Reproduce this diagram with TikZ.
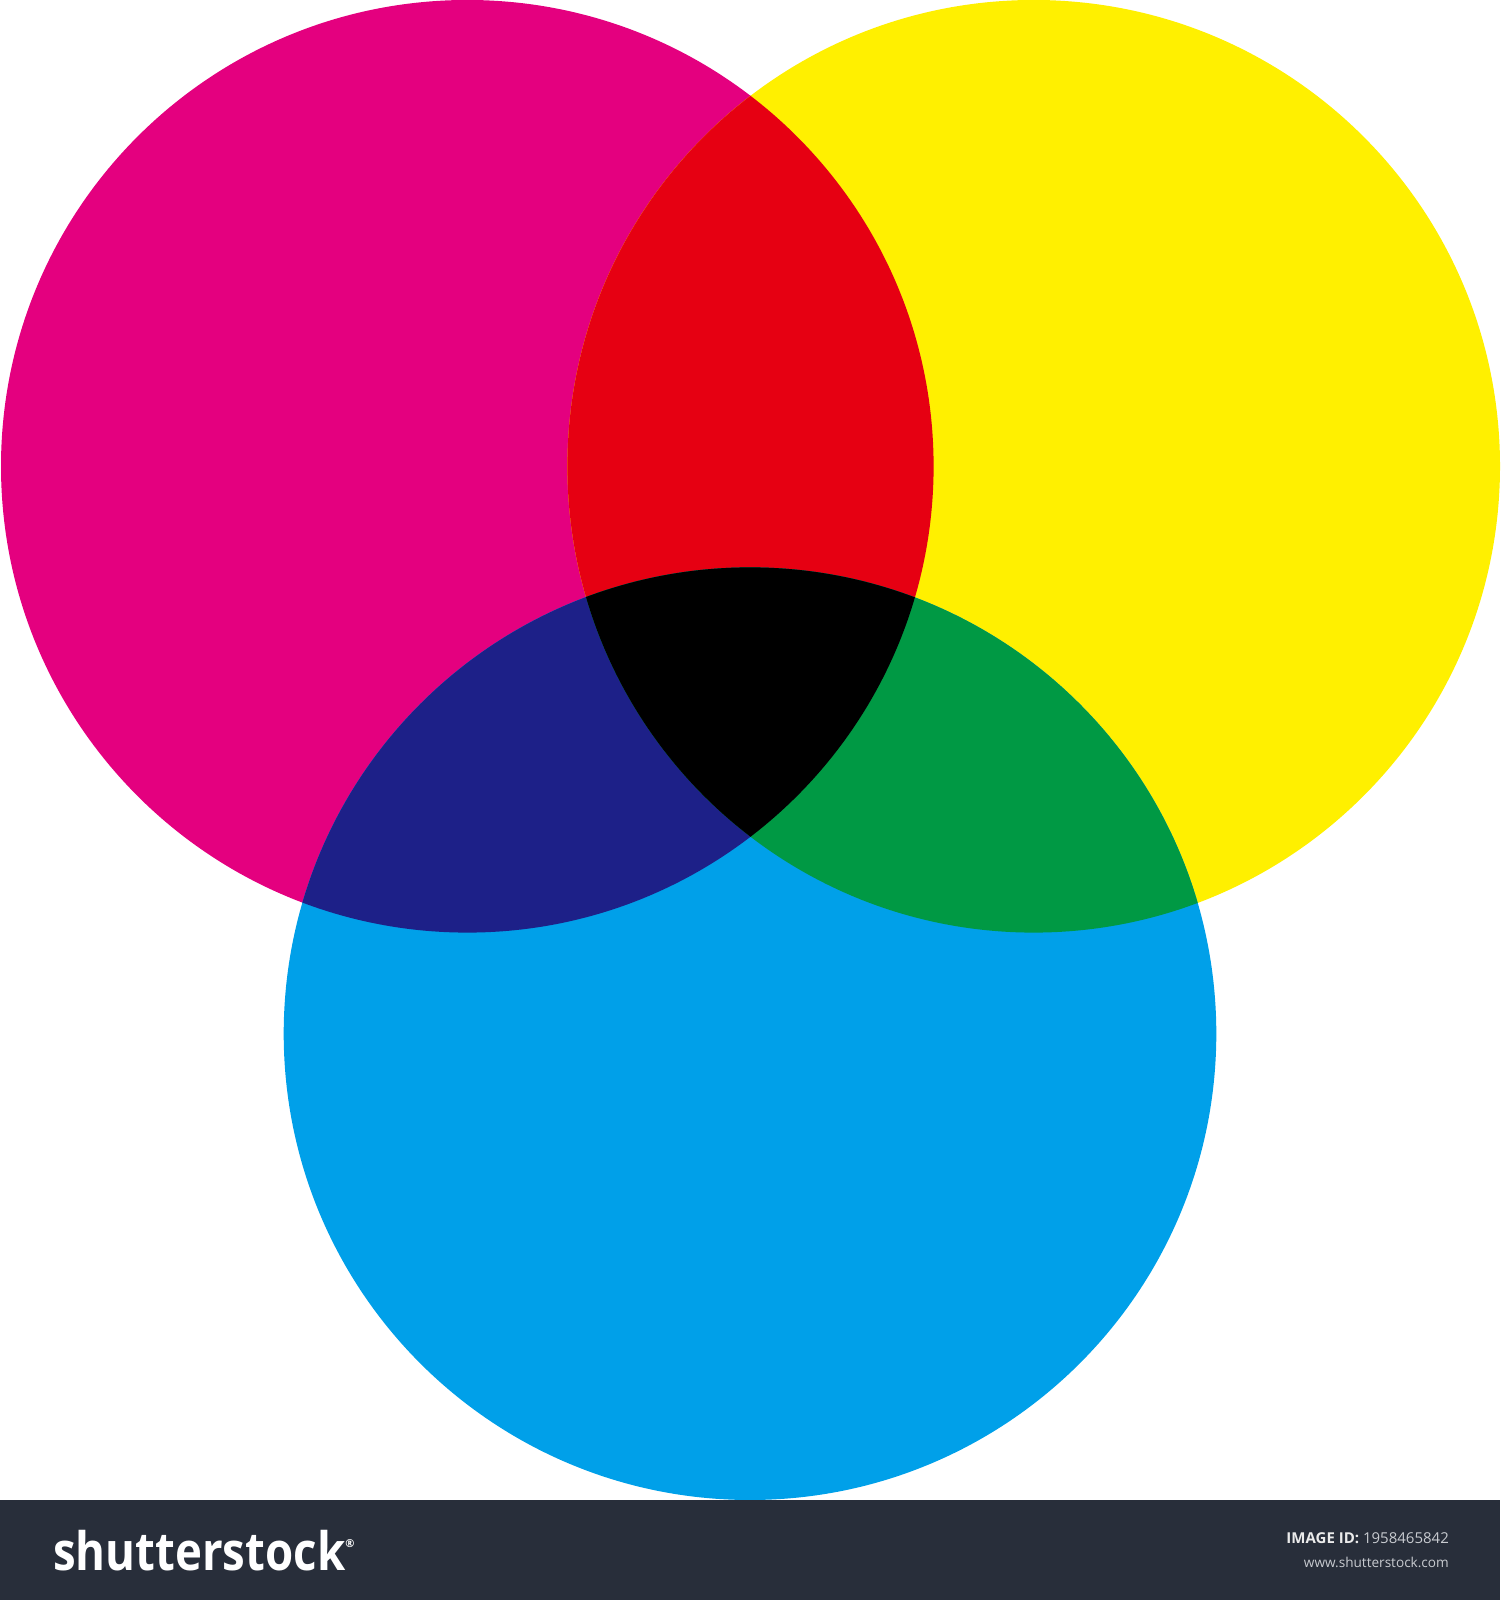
\documentclass[tikz,border=0pt]{standalone}
\usepackage{fontspec}
\setmainfont{Open Sans}
\definecolor{cmag}{HTML}{E4007F}
\definecolor{cyel}{HTML}{FFF000}
\definecolor{ccya}{HTML}{00A0E9}
\definecolor{cred}{HTML}{E60012}
\definecolor{cgrn}{HTML}{009944}
\definecolor{cblu}{HTML}{1D2088}
\definecolor{cbar}{HTML}{282E3A}
\definecolor{cgry}{HTML}{C8CBD0}
\begin{document}
\begin{tikzpicture}[x=1pt,y=1pt,
  idtext/.style={anchor=base east,inner sep=0pt,text=cgry,font=\fontsize{15}{17}\selectfont}]
\useasboundingbox (0,0) rectangle (1500,1600);
\def\R{466.3}
\coordinate (m) at (467.3,1133.7);
\coordinate (y) at (1033.7,1133.7);
\coordinate (c) at (750,566.3);
\fill[cmag] (m) circle (\R);
\fill[cyel] (y) circle (\R);
\fill[ccya] (c) circle (\R);
\begin{scope}
  \clip (m) circle (\R);
  \fill[cred] (y) circle (\R);
  \fill[cblu] (c) circle (\R);
\end{scope}
\begin{scope}
  \clip (y) circle (\R);
  \fill[cgrn] (c) circle (\R);
\end{scope}
\begin{scope}
  \clip (m) circle (\R);
  \clip (y) circle (\R);
  \fill[black] (c) circle (\R);
\end{scope}
\fill[cbar] (0,0) rectangle (1500,100);
\node[anchor=base west,inner sep=0pt,text=white,font=\fontsize{53}{60}\selectfont\bfseries] (logo) at (53,29) {\scalebox{0.86}[1]{shutterstock}\raisebox{0.45em}{\fontsize{11}{12}\selectfont\textregistered}};
\node[idtext] (imgid) at (1449,56) {\textbf{\color{white!92!black}IMAGE ID:} 1958465842};
\node[idtext,font=\fontsize{13.6}{15}\selectfont] (url) at (1449,32) {www.shutterstock.com};
\end{tikzpicture}
\end{document}
